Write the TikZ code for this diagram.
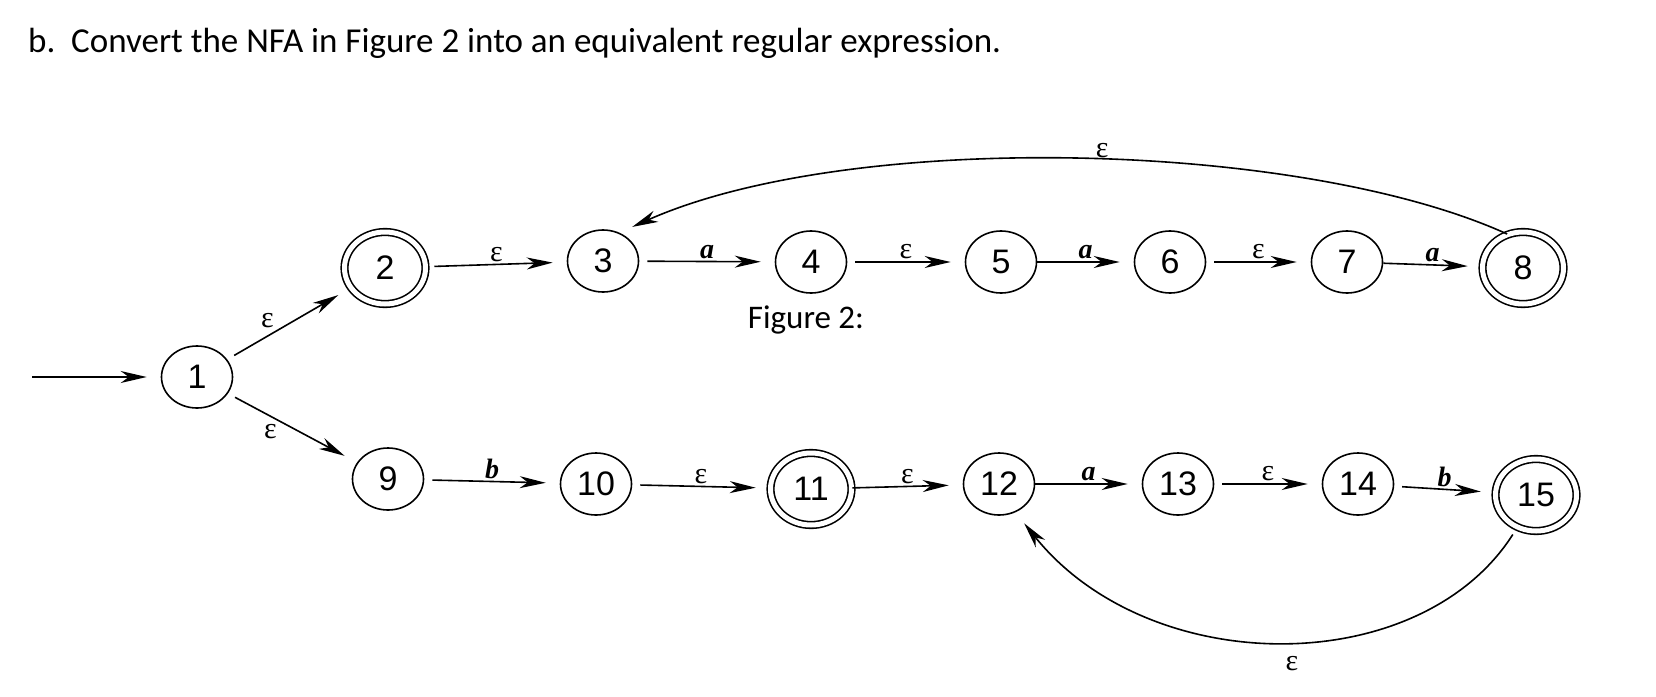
\documentclass[tikz,border=0pt]{standalone}
\usepackage{fontspec}
\setmainfont{Liberation Serif}
\newfontfamily\arl{Liberation Sans}
\newfontfamily\calfont{Carlito}
\usetikzlibrary{shapes.geometric,arrows.meta}
\begin{document}
\begin{tikzpicture}[x=1pt,y=-1pt,
 st/.style={ellipse,draw,line width=1.6pt,minimum width=71pt,minimum height=62pt,inner sep=0pt,font=\arl\fontsize{34}{34}\selectfont},
 acc/.style={st,double,double distance=5pt,minimum width=81pt,minimum height=72pt},
 tr/.style={line width=1.6pt,-{Stealth[length=26pt,width=12pt,inset=8pt]},shorten <=8pt,shorten >=14pt},
 lb/.style={font=\fontsize{30}{30}\selectfont,inner sep=2pt},
 lbl/.style={font=\bfseries\itshape\fontsize{28}{28}\selectfont,inner sep=2pt}]
\useasboundingbox (0,0) rectangle (1656,696);
\node[anchor=base west,font=\calfont\fontsize{35}{35}\selectfont,inner sep=0pt] (title) at (28,52) {b.\ \ Convert the NFA in Figure 2 into an equivalent regular expression.};
\node[font=\calfont\fontsize{33}{33}\selectfont] (fig) at (806,320) {Figure 2:};
\node[st] (n1) at (197,377) {1};
\node[acc] (n2) at (385,268) {2};
\node[st] (n3) at (603,261) {3};
\node[st] (n4) at (811,262) {4};
\node[st] (n5) at (1001,262) {5};
\node[st] (n6) at (1170,262) {6};
\node[st] (n7) at (1347,262) {7};
\node[acc] (n8) at (1523,268) {8};
\node[st] (n9) at (388,479) {9};
\node[st] (n10) at (596,484) {10};
\node[acc] (n11) at (811,489) {11};
\node[st] (n12) at (999,484) {12};
\node[st] (n13) at (1178,484) {13};
\node[st] (n14) at (1358,484) {14};
\node[acc] (n15) at (1536,495) {15};
\coordinate (s0) at (32,377);
\draw[tr,shorten <=0pt] (s0) -- (n1);
\draw[tr] (n1) -- node[lb,above left,pos=0.4]{ε} (n2);
\draw[tr] (n1) -- node[lb,below left,pos=0.4]{ε} (n9);
\draw[tr] (n2) -- node[lb,above]{ε} (n3);
\draw[tr] (n3) -- node[lbl,above]{a} (n4);
\draw[tr] (n4) -- node[lb,above]{ε} (n5);
\draw[tr,shorten <=0pt] (n5) -- node[lbl,above]{a} (n6);
\draw[tr] (n6) -- node[lb,above]{ε} (n7);
\draw[tr,shorten <=0pt] (n7) -- node[lbl,above]{a} (n8);
\draw[tr] (n9) -- node[lbl,above]{b} (n10);
\draw[tr] (n10) -- node[lb,above]{ε} (n11);
\draw[tr,shorten <=0pt] (n11) -- node[lb,above]{ε} (n12);
\draw[tr,shorten <=0pt] (n12) -- node[lbl,above]{a} (n13);
\draw[tr] (n13) -- node[lb,above]{ε} (n14);
\draw[tr] (n14) -- node[lbl,above]{b} (n15);
\draw[tr,shorten <=0pt] (n8.115) .. controls (1300,140) and (850,130) .. node[lb,above,pos=0.47]{ε} (n3.60);
\draw[tr] (n15.-120) .. controls (1420,680) and (1150,680) .. node[lb,below=14pt,pos=0.48]{ε} (n12.-60);
\end{tikzpicture}
\end{document}
